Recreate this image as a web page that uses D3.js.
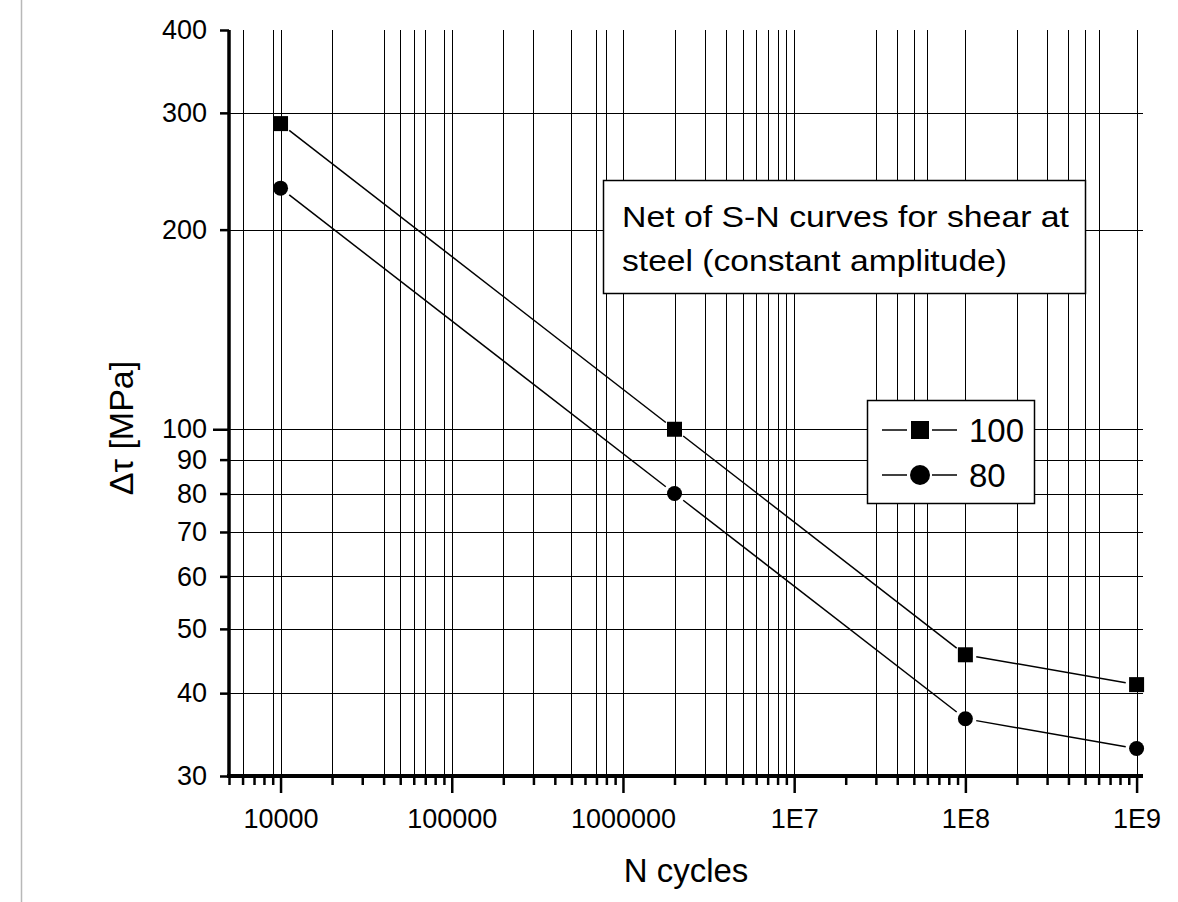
<!DOCTYPE html>
<html>
<head>
<meta charset="utf-8">
<script src="https://cdn.jsdelivr.net/npm/d3@7"></script>
<style>
  html, body { margin: 0; padding: 0; background: #ffffff; }
  svg { display: block; }
  text { font-family: "Liberation Sans", Arial, sans-serif; fill: #000; }
</style>
</head>
<body>
<svg id="chart" width="1178" height="902"></svg>
<script>
// ---- data ----
const cycles = [1e4, 2e6, 1e8, 1e9];
const series100 = [289, 100, 45.7, 41.2];
const series80 = [231, 80, 36.6, 33.0];
const seriesNames = ["100", "80"];

// axis ticks
const xMajorTicks = [1e4, 1e5, 1e6, 1e7, 1e8, 1e9];
const xTickLabels = ["10000", "100000", "1000000", "1E7", "1E8", "1E9"];
const xMinorTicks = [5000, 6000, 7000, 8000, 9000,
  2e4, 3e4, 4e4, 5e4, 6e4, 7e4, 8e4, 9e4,
  2e5, 3e5, 4e5, 5e5, 6e5, 7e5, 8e5, 9e5,
  2e6, 3e6, 4e6, 5e6, 6e6, 7e6, 8e6, 9e6,
  2e7, 3e7, 4e7, 5e7, 6e7, 7e7, 8e7, 9e7,
  2e8, 3e8, 4e8, 5e8, 6e8, 7e8, 8e8, 9e8];
// vertical grid lines visible in the reference
const xGridValues = [6000, 9000, 1e4,
  2e4, 4e4, 5e4, 6e4, 7e4, 9e4, 1e5,
  2e5, 3e5, 5e5, 7e5, 8e5, 1e6,
  2e6, 3e6, 4e6, 5e6, 6e6, 7e6, 8e6, 9e6, 1e7,
  3e7, 4e7, 5e7, 6e7, 1e8,
  2e8, 3e8, 4e8, 5e8, 6e8, 1e9];
const yTicks = [30, 40, 50, 60, 70, 80, 90, 100, 200, 300, 400];
const yMajorTicks = [100];
const yGridValues = [40, 50, 60, 70, 80, 90, 100, 200, 300];

const titleLines = ["Net of S-N curves for shear at", "steel (constant amplitude)"];
const xTitle = "N cycles";
const yTitle = "\u0394\u03c4 [MPa]";

// ---- layout ----
const svg = d3.select("#chart");
const pLeft = 229, pRight = 1143, pTop = 30, pBottom = 776;

const x = d3.scaleLog().domain([5000, 1.09e9]).range([pLeft, pRight]);
const y = d3.scaleLog().domain([30, 400]).range([pBottom, pTop]);

// border line at far left of the image
svg.append("line").attr("x1", 21.5).attr("x2", 21.5).attr("y1", 0).attr("y2", 902)
  .attr("stroke", "#b8b8b8").attr("stroke-width", 1.5);

// grid
const grid = svg.append("g").attr("stroke", "#000").attr("stroke-width", 1);
grid.selectAll("line.vx").data(xGridValues).join("line")
  .attr("x1", d => Math.round(x(d)) + 0.5).attr("x2", d => Math.round(x(d)) + 0.5)
  .attr("y1", pTop).attr("y2", pBottom);
grid.selectAll("line.hy").data(yGridValues).join("line")
  .attr("x1", pLeft).attr("x2", pRight)
  .attr("y1", d => Math.round(y(d)) + 0.5).attr("y2", d => Math.round(y(d)) + 0.5);

// x axis
const xAxisMinor = d3.axisBottom(x).tickValues(xMinorTicks).tickSize(9).tickFormat("");
const xAxisMajor = d3.axisBottom(x).tickValues(xMajorTicks).tickSize(17)
  .tickFormat((d, i) => xTickLabels[i]).tickPadding(16);
const gxm = svg.append("g").attr("transform", `translate(0,${pBottom})`).call(xAxisMinor);
const gx = svg.append("g").attr("transform", `translate(0,${pBottom})`).call(xAxisMajor);
[gxm, gx].forEach(g => {
  g.select(".domain").remove();
  g.selectAll(".tick line").attr("stroke", "#000").attr("stroke-width", 2.5);
});
gx.selectAll(".tick text").attr("font-size", 27).attr("font-family", "Liberation Sans, Arial, sans-serif").attr("fill", "#000");

// y axis
const yAxis = d3.axisLeft(y).tickValues(yTicks)
  .tickSize(9).tickPadding(12).tickFormat(d3.format("d"));
const gy = svg.append("g").attr("transform", `translate(${pLeft},0)`).call(yAxis);
gy.select(".domain").remove();
gy.selectAll(".tick line").attr("stroke", "#000").attr("stroke-width", 2.5)
  .attr("x2", d => yMajorTicks.includes(d) ? -16 : -9);
gy.selectAll(".tick text").attr("font-size", 27).attr("font-family", "Liberation Sans, Arial, sans-serif")
  .attr("fill", "#000").attr("x", -22);

// axis lines
svg.append("line").attr("x1", pLeft).attr("x2", pLeft).attr("y1", pTop).attr("y2", pBottom + 2)
  .attr("stroke", "#000").attr("stroke-width", 3.5);
svg.append("line").attr("x1", pLeft - 2).attr("x2", pRight).attr("y1", pBottom).attr("y2", pBottom)
  .attr("stroke", "#000").attr("stroke-width", 4);

// axis titles
svg.append("text").attr("x", 686).attr("y", 882)
  .attr("text-anchor", "middle").attr("font-size", 33).text(xTitle);
svg.append("text").attr("transform", "translate(133,428) rotate(-90)")
  .attr("text-anchor", "middle").attr("font-size", 34).text(yTitle);

// series
const allSeries = [
  { name: seriesNames[0], values: series100, marker: "square" },
  { name: seriesNames[1], values: series80, marker: "circle" }
];
const gap = 11;
allSeries.forEach(s => {
  const pts = cycles.map((c, i) => [x(c), y(s.values[i])]);
  const g = svg.append("g");
  for (let i = 0; i < pts.length - 1; i++) {
    const [x1, y1] = pts[i], [x2, y2] = pts[i + 1];
    const len = Math.hypot(x2 - x1, y2 - y1);
    const ux = (x2 - x1) / len, uy = (y2 - y1) / len;
    g.append("line")
      .attr("x1", x1 + ux * gap).attr("y1", y1 + uy * gap)
      .attr("x2", x2 - ux * gap).attr("y2", y2 - uy * gap)
      .attr("stroke", "#000").attr("stroke-width", 1.5);
  }
  pts.forEach(p => {
    if (s.marker === "square") {
      g.append("rect").attr("x", p[0] - 7.5).attr("y", p[1] - 7.5)
        .attr("width", 15).attr("height", 15).attr("fill", "#000");
    } else {
      g.append("circle").attr("cx", p[0]).attr("cy", p[1]).attr("r", 7.5).attr("fill", "#000");
    }
  });
});

// title box
const tb = svg.append("g");
tb.append("rect").attr("x", 603.5).attr("y", 180.5).attr("width", 482).attr("height", 113)
  .attr("fill", "#fff").attr("stroke", "#000").attr("stroke-width", 1.5);
titleLines.forEach((t, i) => {
  tb.append("text").attr("x", 622).attr("y", 227 + i * 44).attr("font-size", 30)
    .attr("textLength", i === 0 ? 447 : 385).attr("lengthAdjust", "spacingAndGlyphs").text(t);
});

// legend
const lg = svg.append("g");
lg.append("rect").attr("x", 867.5).attr("y", 400.5).attr("width", 167).attr("height", 103)
  .attr("fill", "#fff").attr("stroke", "#000").attr("stroke-width", 1.5);
allSeries.forEach((s, i) => {
  const cy = 430 + i * 45;
  lg.append("line").attr("x1", 882).attr("x2", 907).attr("y1", cy).attr("y2", cy)
    .attr("stroke", "#000").attr("stroke-width", 1.5);
  lg.append("line").attr("x1", 932).attr("x2", 957).attr("y1", cy).attr("y2", cy)
    .attr("stroke", "#000").attr("stroke-width", 1.5);
  if (s.marker === "square") {
    lg.append("rect").attr("x", 920 - 9).attr("y", cy - 9).attr("width", 18).attr("height", 18).attr("fill", "#000");
  } else {
    lg.append("circle").attr("cx", 920).attr("cy", cy).attr("r", 10).attr("fill", "#000");
  }
  lg.append("text").attr("x", 969).attr("y", cy + 12).attr("font-size", 33).text(s.name);
});
</script>
</body>
</html>
